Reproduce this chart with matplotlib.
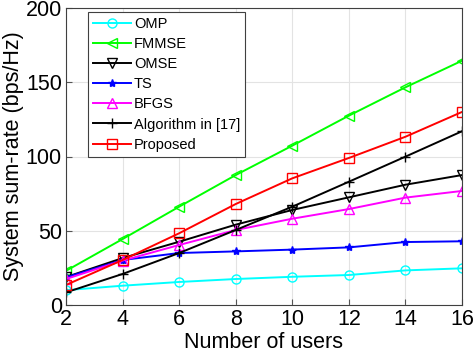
import numpy as np
import matplotlib
matplotlib.use("Agg")
from matplotlib import pyplot as plt

plt.rcParams['font.family'] = ['Liberation Sans', 'DejaVu Sans']

users = [2, 4, 6, 8, 10, 12, 14, 16]
omp = [10, 13, 15.5, 17.5, 19, 20.2, 23.3, 24.7]
fmmse = [23, 44.4, 66.2, 87.5, 107.3, 127.5, 146.6, 164.5]
omse = [18.8, 31.6, 42.6, 54.1, 64, 72.5, 81, 87.5]
ts = [18.6, 30.3, 35, 36.1, 37.3, 38.8, 42.4, 42.9]
bfgs = [17.5, 29.9, 40.4, 50.5, 58.1, 64.6, 72.3, 76.8]
alg17 = [8.5, 20.9, 35, 50.5, 66.2, 83, 99.9, 117]
proposed = [13.5, 30.3, 48.3, 68, 85.3, 99, 113.3, 130]

series = [
    ("OMP", omp, "#00ffff", "o"),
    ("FMMSE", fmmse, "#00ff00", "<"),
    ("OMSE", omse, "black", "v"),
    ("TS", ts, "blue", "*"),
    ("BFGS", bfgs, "magenta", "^"),
    ("Algorithm in [17]", alg17, "black", "+"),
    ("Proposed", proposed, "red", "s"),
]

fig = plt.figure(figsize=(4.74, 3.62), dpi=100)
ax = fig.add_axes([66 / 474, 1 - 305 / 362, 396 / 474, 297 / 362])

for name, vals, col, mk in series:
    filled = mk == "*"
    ax.plot(users, vals, color=col, marker=mk, markersize=6.5 if mk != "*" else 6,
            markerfacecolor=col if filled else "none", markeredgecolor=col,
            markeredgewidth=1.0, lw=1.4, label=name)

ax.set_xlim(2, 16)
ax.set_ylim(0, 200)
ax.set_xticks(users)
ax.set_yticks([0, 50, 100, 150, 200])
ax.grid(True, color="#e3e3e3", lw=0.8)
ax.tick_params(direction="in", labelsize=15.5, length=4, color="#555555", pad=3)
for s in ax.spines.values():
    s.set_color("#404040")
ax.set_xlabel("Number of users", fontsize=15.5, labelpad=1)
ax.set_ylabel("System sum-rate (bps/Hz)", fontsize=15.5, labelpad=1)

leg = ax.legend(loc="upper left", bbox_to_anchor=(0.056, 0.987), fontsize=10.5,
                fancybox=False, edgecolor="#404040", framealpha=1,
                handlelength=2.6, handletextpad=0.2, labelspacing=0.42,
                borderpad=0.35, borderaxespad=0)
leg.get_frame().set_linewidth(0.8)

fig.savefig("out.png", dpi=100)
